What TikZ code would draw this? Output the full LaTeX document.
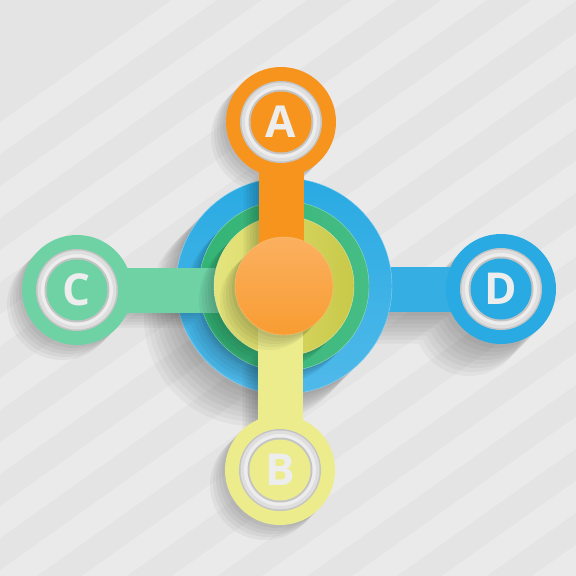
\documentclass[tikz,border=0pt]{standalone}
\usepackage{fontspec}
\setsansfont{Open Sans}
\begin{document}
\begin{tikzpicture}[x=1pt, y=-1pt,
    badge/.style={circle, inner sep=0pt, minimum size=110pt, fill=#1,
        font=\sffamily\bfseries\fontsize{44}{44}\selectfont, text=white!93!black,
        path picture={
            \fill[grooveColor] (path picture bounding box.center) circle (41pt);
            \fill[ringColor] (path picture bounding box.center) circle (39.5pt);
            \fill[white!93!black] (path picture bounding box.center) circle (36pt);
            \fill[grooveColor] (path picture bounding box.center) circle (32.5pt);
            \fill[#1] (path picture bounding box.center) circle (30.5pt);
        }},
    bar/.style={line width=45pt, #1}]
    % Define colors
    \definecolor{bgColor}{RGB}{228,228,228}
    \definecolor{stripeColor}{RGB}{234,234,234}
    \definecolor{grooveColor}{RGB}{196,196,196}
    \definecolor{ringColor}{RGB}{222,222,222}
    \definecolor{blueColor}{RGB}{41,170,226}
    \definecolor{blueLight}{RGB}{80,185,234}
    \definecolor{greenColor}{RGB}{52,180,118}
    \definecolor{mintColor}{RGB}{110,210,165}
    \definecolor{yellowColor}{RGB}{200,200,72}
    \definecolor{paleColor}{RGB}{236,236,140}
    \definecolor{orangeColor}{RGB}{247,148,30}
    \definecolor{peachColor}{RGB}{251,176,96}
    % Background with diagonal stripes
    \fill[bgColor] (0,0) rectangle (576,576);
    \begin{scope}
        \clip (0,0) rectangle (576,576);
        \foreach \s in {-700,-610,...,600}
            \fill[stripeColor] (\s,620) -- ++(900,-640) -- ++(45,0) -- ++(-900,640) -- cycle;
    \end{scope}
    % Positions
    \coordinate (hub) at (284,286);
    \coordinate (a) at (281,122);
    \coordinate (b) at (280,470);
    \coordinate (c) at (77,290);
    \coordinate (d) at (501,289);
    \coordinate (ah) at (a |- hub);
    \coordinate (bh) at (b |- hub);
    \coordinate (ch) at (c -| hub);
    \coordinate (dh) at (d -| hub);
    % Blue layer
    \foreach \k in {4,8,...,32} {
        \begin{scope}[transparency group, opacity=0.035]
            \fill[black] ([shift={(-\k,\k)}]hub) circle (108pt) ([shift={(-\k,\k)}]d) circle (55pt);
            \draw[bar=black] ([shift={(-\k,\k)}]dh) -- ([shift={(-\k,\k)}]d);
        \end{scope}
    }
    \draw[bar=blueColor!70!blueLight] (dh) -- (d);
    \shade[top color=blueColor, bottom color=blueLight, draw=white!50!blueColor] (hub) circle (108pt);
    \node[badge=blueColor] (D) at (d) {D};
    % Green layer
    \foreach \k in {3,6,...,15} {
        \begin{scope}[transparency group, opacity=0.045]
            \fill[black] ([shift={(-\k,\k)}]hub) circle (85pt) ([shift={(-\k,\k)}]c) circle (55pt);
            \draw[bar=black] ([shift={(-\k,\k)}]ch) -- ([shift={(-\k,\k)}]c);
        \end{scope}
    }
    \shade[left color=greenColor, right color=greenColor!70!mintColor, draw=white!50!greenColor] (hub) circle (85pt);
    \draw[bar=mintColor] (c) -- (ch);
    \node[badge=mintColor] (C) at (c) {C};
    % Yellow layer
    \foreach \k in {3,6,...,15} {
        \begin{scope}[transparency group, opacity=0.045]
            \fill[black] ([shift={(-\k,\k)}]hub) circle (70pt) ([shift={(-\k,\k)}]b) circle (55pt);
            \draw[bar=black] ([shift={(-\k,\k)}]bh) -- ([shift={(-\k,\k)}]b);
        \end{scope}
    }
    \shade[left color=paleColor!80!yellowColor, right color=yellowColor, draw=white!50!yellowColor] (hub) circle (70pt);
    \draw[bar=paleColor] (bh) -- (b);
    \node[badge=paleColor] (B) at (b) {B};
    % Orange layer
    \foreach \k in {3,6,...,15} {
        \begin{scope}[transparency group, opacity=0.045]
            \fill[black] ([shift={(-\k,\k)}]hub) circle (49pt) ([shift={(-\k,\k)}]a) circle (55pt);
            \draw[bar=black] ([shift={(-\k,\k)}]a) -- ([shift={(-\k,\k)}]ah);
        \end{scope}
    }
    \draw[bar=orangeColor] (a) -- (ah);
    \node[badge=orangeColor] (A) at (a) {A};
    \shade[top color=peachColor, bottom color=orangeColor!70!peachColor, draw=white!40!orangeColor] (hub) circle (49pt);
\end{tikzpicture}
\end{document}
